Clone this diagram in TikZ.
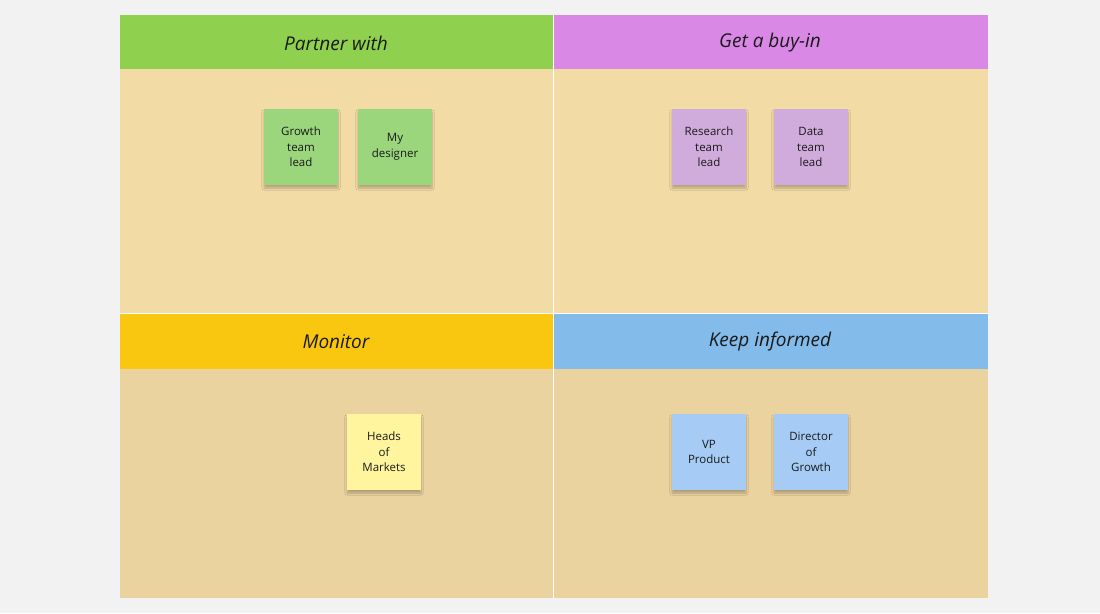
\documentclass[tikz,border=0pt]{standalone}
\usepackage{fontspec}
\setmainfont{Open Sans}
\usetikzlibrary{shadows.blur}
\definecolor{bg}{HTML}{F2F2F2}
\definecolor{bodyA}{HTML}{F3DBA6}
\definecolor{bodyB}{HTML}{EBD3A0}
\definecolor{hG}{HTML}{8FD14F}
\definecolor{hP}{HTML}{DA88E6}
\definecolor{hY}{HTML}{FAC710}
\definecolor{hB}{HTML}{83BBEA}
\definecolor{sG}{HTML}{9BD67D}
\definecolor{sP}{HTML}{D0ACDC}
\definecolor{sY}{HTML}{FFF59E}
\definecolor{sB}{HTML}{A6CCF5}
\definecolor{txt}{HTML}{1A1A1A}
\tikzset{
  hdr/.style={font=\itshape\fontsize{19}{22}\selectfont, text=txt},
  sticky/.style={minimum width=74pt, minimum height=76pt, inner sep=1pt, align=center,
    text=txt, font=\fontsize{11.5}{15.5}\selectfont,
    blur shadow={shadow xshift=0pt, shadow yshift=-3pt, shadow blur steps=6, shadow opacity=25}},
}
\begin{document}
\begin{tikzpicture}[x=1pt,y=-1pt]
\fill[bg] (0,0) rectangle (1100,613);
\useasboundingbox (0,0) rectangle (1100,613);
% bodies
\fill[bodyA] (120,69) rectangle (988,313);
\fill[bodyB] (120,369) rectangle (988,598);
% headers
\fill[hG] (120,15) rectangle (553,69);
\fill[hP] (553,15) rectangle (988,69);
\fill[hY] (120,314) rectangle (553,369);
\fill[hB] (553,314) rectangle (988,369);
\draw[white, line width=0.8pt] (553,15) -- (553,598);
\draw[white, line width=0.8pt] (120,313.5) -- (988,313.5);
\node[hdr] (h1) at (336,43) {Partner with};
\node[hdr] (h2) at (770,43) {Get a buy-in};
\node[hdr] (h3) at (336,342) {Monitor};
\node[hdr] (h4) at (770,342) {Keep informed};
% stickies
\node[sticky, fill=sG] (s1) at (301,147) {Growth\\team\\lead};
\node[sticky, fill=sG] (s2) at (395,147) {My\\designer};
\node[sticky, fill=sP] (s3) at (709,147) {Research\\team\\lead};
\node[sticky, fill=sP] (s4) at (811,147) {Data\\team\\lead};
\node[sticky, fill=sY] (s5) at (384,452) {Heads\\of\\Markets};
\node[sticky, fill=sB] (s6) at (709,452) {VP\\Product};
\node[sticky, fill=sB] (s7) at (811,452) {Director\\of\\Growth};
\end{tikzpicture}
\end{document}
